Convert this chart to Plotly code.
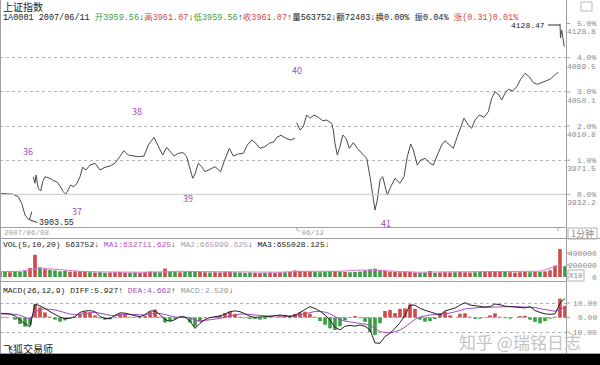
import plotly.graph_objects as go

W, H = 600, 365
FONT = "Noto Sans CJK SC"
MONO = "Liberation Mono, Noto Sans CJK SC"

# ---------------- data ----------------
# price line, time position along the chart (minutes) and index value, per session
t_s1 = [0, 13.3, 18.3, 21.7, 25, 28.3, 30, 31.7]
p_s1 = [3933.4, 3932.2, 3929.4, 3921.8, 3908.4, 3903.55, 3904.6, 3912.2]

t_s2 = [33.3, 35, 36, 38.3, 40.7, 42.7, 45, 50, 53.3, 56.7, 60, 63.3, 65.7, 68.3, 70.7,
        73.3, 76.7, 80, 82.7, 86, 90, 95, 100, 105, 110, 115, 120, 124, 128.3, 133.3,
        138.3, 144, 148.3, 154, 158.3, 162.7, 166.7, 170.7, 174, 178.3, 183.3, 186.7, 190,
        192.7, 195, 198.3, 201.7, 205, 210, 215, 220.7, 224, 229.3, 233.3, 238.3, 243.3,
        247.3, 251.7, 256, 260, 265, 269.3, 274, 276.7, 281, 286, 290.7, 295]
p_s2 = [3952.5, 3944.9, 3954.4, 3939.1, 3936.0, 3946.7, 3952.5, 3950.6, 3947.9, 3946.7,
        3941.8, 3935.2, 3932.2, 3937.1, 3942.9, 3940.9, 3944.1, 3952.5, 3963.3, 3960.2,
        3965.9, 3967.9, 3960.2, 3963.3, 3964.8, 3967.9, 3975.5, 3982.4, 3977.4, 3976.3,
        3975.5, 3976.3, 3988.9, 3997.8, 3987.0, 3977.4, 3986.3, 3981.2, 3976.3, 3979.4,
        3980.1, 3975.5, 3960.2, 3950.6, 3955.6, 3967.9, 3964.0, 3958.2, 3961.0, 3964.0,
        3958.2, 3969.7, 3985.1, 3976.3, 3978.6, 3979.4, 3988.9, 3994.7, 3990.9, 3985.1,
        3987.0, 3990.9, 3992.7, 3997.8, 4000.1, 3996.7, 3994.7, 3996.7]

t_s3 = [296.7, 299.3, 300, 303.3, 306.7, 310, 314, 318.3, 322.7, 326.7, 331.7, 333.3, 335,
        337.3, 340, 342.7, 346, 349.3, 353.3, 357.3, 361.7, 366.7, 370, 372.7, 375, 377.3,
        380, 382.7, 385, 387.3, 390.7, 395, 400, 404, 407.3, 410.7, 413.3, 417.3, 420.7,
        425, 430, 433.3, 437.3, 441.7, 445, 449.3, 453.3, 457.3, 460.7, 464, 468.3, 471.7,
        475, 479.3, 484, 488.3, 491.7, 495, 499, 501.7, 505, 508.3, 512.7, 516.7, 520.7,
        525, 529.3, 533.3, 537.3, 543.3, 550, 556.7, 558.3]
p_s3 = [4014.6, 4009.3, 4006.2, 4010.0, 4023.5, 4019.7, 4023.5, 4020.8, 4016.9, 4017.7,
        4013.9, 4006.2, 3990.9, 3977.4, 3987.0, 4000.5, 3996.7, 3985.1, 3991.6, 3985.1,
        3979.4, 3973.6, 3952.5, 3929.4, 3914.1, 3925.6, 3948.7, 3952.5, 3940.9, 3931.4,
        3940.9, 3950.6, 3944.9, 3952.5, 3975.5, 3990.1, 3983.2, 3965.9, 3971.7, 3973.6,
        3967.9, 3965.9, 3977.4, 3988.9, 3993.9, 3988.9, 3985.1, 3998.5, 4010.0, 4019.7,
        4012.0, 4008.2, 4017.7, 4023.5, 4020.8, 4027.3, 4042.7, 4050.3, 4046.5, 4040.7,
        4048.5, 4053.1, 4051.1, 4056.0, 4064.6, 4071.5, 4067.6, 4060.7, 4058.8, 4061.8,
        4064.6, 4071.5, 4072.2]

t_s4 = [560, 560.5, 561.7, 563, 564.3]
p_s4 = [4128.47, 4112.1, 4121.3, 4112.1, 4102.1]

# right axis levels (percent, price)
pct_labels = ["0.0%", "1.0%", "2.0%", "3.0%", "4.0%", "5.0%"]
pct_prices = [3932.2, 3971.5, 4010.8, 4050.1, 4089.5, 4128.8]

# wave labels
wave_labels = ["36", "37", "38", "39", "40", "41"]
wave_t = [28, 77, 137, 188, 297, 386]
wave_p = [3981.0, 3913.0, 4027.0, 3927.0, 4075.0, 3899.0]

# lower panels sampled every 5 minutes
lower_t = list(range(0, 566, 5))
volume = [85000, 90000, 80000, 95000, 85000, 100000, 150000, 370000, 160000, 130000, 120000, 110000,
          95000, 105000, 90000, 95000, 100000, 85000, 80000, 75000, 80000, 70000, 75000, 80000,
          85000, 75000, 70000, 75000, 70000, 80000, 90000, 85000, 80000, 140000, 90000, 85000,
          80000, 85000, 95000, 100000, 85000, 80000, 75000, 80000, 75000, 90000, 85000, 80000,
          75000, 70000, 75000, 70000, 65000, 70000, 75000, 70000, 75000, 80000, 85000, 110000,
          100000, 95000, 90000, 85000, 80000, 90000, 95000, 100000, 90000, 85000, 80000, 85000,
          90000, 110000, 130000, 140000, 120000, 100000, 90000, 85000, 80000, 90000, 85000, 75000,
          70000, 75000, 100000, 70000, 75000, 80000, 75000, 80000, 85000, 80000, 75000, 80000,
          85000, 90000, 100000, 95000, 90000, 85000, 80000, 75000, 80000, 85000, 80000, 85000,
          90000, 95000, 110000, 190000, 470000, 180000]
vol_dir = ("rgrgggrrgrgg" "ggrrrrgrggrr" "rrggrrrggrgg" "rgggrrgrrrrg" "gggrrgrrrgrr"
           "rrrggggrgrgg" "gggggrrrrrrr" "ggrgrrrgrrrg" "grrrrgrrrrgr" "grrrrg")
ma1_t = list(range(0, 561, 20))
vol_ma1 = [90000, 95000, 150000, 120000, 95000, 85000, 80000, 80000, 85000, 95000, 90000, 85000,
           80000, 75000, 80000, 95000, 90000, 95000, 115000, 110000, 90000, 80000, 85000, 85000,
           90000, 85000, 85000, 95000, 200000]

diff = [2.9, 2.9, 2.4, 1.2, -1.5, -4.5, -6.3, 9.3, 8.0, 6.3, 4.0, 2.2,
        0.3, -0.8, -0.5, 0.6, 3.5, 4.5, 4.7, 4.2, 0.6, -0.6, -0.8, 1.5,
        3.2, 3.0, 2.0, 1.2, 0.6, 2.0, 4.5, 4.5, 2.0, -1.5, -2.6, -1.5,
        0.6, 0.3, -2.5, -7.5, -4.0, -1.5, 0.0, 0.6, 1.0, 2.5, 4.0, 4.6,
        4.0, 2.5, 0.8, 0.1, 0.6, 0.6, 0.8, 1.2, 1.7, 1.2, 0.6, 1.5,
        3.5, 5.8, 7.5, 6.2, 4.3, 1.8, -1.7, -6.8, -8.6, -6.0, -5.5, -6.0,
        -5.2, -6.0, -8.6, -17.5, -17.8, -13.2, -10.9, -7.5, -3.5, 1.5, 8.6, 8.5,
        6.3, 5.0, 3.8, 2.5, 1.7, 4.5, 5.4, 6.5, 8.6, 10.2, 8.6, 8.2,
        7.5, 7.2, 7.5, 9.3, 8.8, 7.8, 7.5, 7.2, 6.6, 6.6, 7.5, 4.8,
        3.5, 2.5, 2.2, 2.5, 9.8, 13.2]
dea = [2.5, 2.6, 2.6, 2.3, 1.5, 0.3, -1.2, 4.0, 5.5, 6.0, 5.8, 5.2,
       4.3, 3.3, 2.4, 1.9, 2.1, 2.7, 3.2, 3.5, 3.0, 2.2, 1.5, 1.3,
       1.8, 2.2, 2.2, 2.0, 1.7, 1.7, 2.3, 2.9, 2.8, 1.9, 0.9, 0.3,
       0.3, 0.3, -0.3, -1.8, -2.3, -2.1, -1.6, -1.1, -0.6, 0.1, 1.0, 1.9,
       2.4, 2.4, 2.0, 1.5, 1.3, 1.1, 1.0, 1.0, 1.2, 1.2, 1.1, 1.2,
       1.7, 2.6, 3.6, 4.2, 4.2, 3.7, 2.6, 0.6, -1.4, -2.5, -3.2, -3.8,
       -4.1, -4.5, -5.3, -7.7, -9.7, -10.4, -10.5, -9.9, -8.6, -6.6, -3.6, -1.2,
       0.3, 1.2, 1.8, 2.0, 2.0, 2.5, 3.1, 3.8, 4.8, 5.9, 6.4, 6.8,
       6.9, 7.0, 7.1, 7.6, 7.8, 7.8, 7.7, 7.6, 7.4, 7.2, 7.3, 6.8,
       6.1, 5.4, 4.8, 4.3, 5.4, 7.0]
macd_bar = [0.5, 0.4, 0.0, -1.5, -4.5, -6.3, -5.0, 9.0, 7.0, 3.5, 0.5, -1.5,
            -2.9, -2.0, -0.5, 0.5, 2.5, 4.0, 3.5, 1.5, -0.5, -1.5, -1.2, 0.5,
            2.5, 2.0, 0.5, -0.3, -0.5, 1.0, 4.0, 5.5, 0.5, -3.5, -2.5, -1.0,
            -0.3, -0.5, -3.5, -6.3, -3.0, -0.5, 0.2, 0.8, 1.5, 3.0, 4.0, 2.5,
            0.5, -0.5, -1.0, -1.0, -1.5, -1.0, 0.3, -0.2, 0.8, 1.8, -0.5, 2.5,
            3.5, 4.0, 2.5, 0.5, -2.5, -5.0, -7.5, -8.6, -6.0, -2.0, 0.3, 1.0,
            -0.5, -3.0, -10.0, -12.0, -4.0, 4.5, 5.2, 3.0, 6.0, 6.3, 9.0, 6.0,
            -1.5, -2.9, -2.5, -1.0, 3.0, 4.0, 1.5, 0.0, 2.5, 2.9, 0.5, -1.0,
            -0.8, 0.3, 1.5, 2.9, 0.5, -0.5, -0.8, 0.0, 1.0, 1.2, -1.5, -3.0,
            -4.0, -2.5, -0.8, 0.5, 13.0, 8.0]

vol_ticks = [0, 200000, 400000]
vol_tick_text = ["0", "200000", "400000"]
macd_ticks = [-10, 0, 10]
macd_tick_text = ["-10.00", "0.00", "10.00"]

# ---------------- layout helpers (pixel -> paper) ----------------
def px(x):
    return x / W


def py(y):
    return 1 - y / H


RED = "#d04a4a"
GREEN = "#3a9e45"
PURPLE = "#a24fc0"
GRAY = "#8a8a8a"

fig = go.Figure()

t_all = t_s1 + [None] + t_s2 + [None] + t_s3 + [None] + t_s4
p_all = p_s1 + [None] + p_s2 + [None] + p_s3 + [None] + p_s4
fig.add_trace(go.Scatter(x=t_all, y=p_all, mode="lines", connectgaps=False,
                         line=dict(color="#4a4a4a", width=1), hoverinfo="skip",
                         xaxis="x", yaxis="y"))

vol_colors = [RED if c == "r" else GREEN for c in vol_dir]
fig.add_trace(go.Bar(x=lower_t, y=volume, marker=dict(color=vol_colors, line=dict(width=0)),
                     width=3.6, xaxis="x2", yaxis="y2", hoverinfo="skip"))
fig.add_trace(go.Scatter(x=ma1_t, y=vol_ma1, mode="lines", line=dict(color="#d77ad7", width=1),
                         xaxis="x2", yaxis="y2", hoverinfo="skip"))

bar_colors = [RED if v >= 0 else GREEN for v in macd_bar]
fig.add_trace(go.Bar(x=lower_t, y=macd_bar, marker=dict(color=bar_colors, line=dict(width=0)),
                     width=3.6, xaxis="x3", yaxis="y3", hoverinfo="skip"))
fig.add_trace(go.Scatter(x=lower_t, y=dea, mode="lines", line=dict(color=PURPLE, width=1),
                         xaxis="x3", yaxis="y3", hoverinfo="skip"))
fig.add_trace(go.Scatter(x=lower_t, y=diff, mode="lines", line=dict(color="#222", width=1),
                         xaxis="x3", yaxis="y3", hoverinfo="skip"))

XR = [0, 566]
xcommon = dict(range=XR, domain=[0, px(566)], showgrid=False, showticklabels=False,
               zeroline=False, showline=False, ticks="")
fig.update_layout(
    width=W, height=H, margin=dict(l=0, r=0, t=0, b=0),
    paper_bgcolor="white", plot_bgcolor="white", showlegend=False,
    font=dict(family=FONT, size=9, color="#222"),
    xaxis=dict(anchor="y", **xcommon),
    xaxis2=dict(anchor="y2", **xcommon),
    xaxis3=dict(anchor="y3", **xcommon),
    yaxis=dict(domain=[py(227), py(20)], range=[3894.6, 4132.8], tickvals=pct_prices[1:5],
               showgrid=True, gridcolor="#b5b5b5", griddash="dot", gridwidth=1,
               showticklabels=False, zeroline=False, ticks=""),
    yaxis2=dict(domain=[py(278), py(249)], range=[-16667, 466667], showgrid=False,
                showticklabels=False, zeroline=False, ticks=""),
    yaxis3=dict(domain=[py(353), py(285)], range=[-24.48, 22.41], tickvals=macd_ticks,
                showgrid=True, gridcolor="#b0b0b0", griddash="dot", gridwidth=1,
                showticklabels=False, zeroline=False, ticks=""),
)

shapes = []
LC = "#a0a0a0"


def hline(y, x0=0, x1=600, color=LC, dash="solid"):
    shapes.append(dict(type="line", xref="paper", yref="paper", x0=px(x0), x1=px(x1),
                       y0=py(y), y1=py(y), line=dict(color=color, width=1, dash=dash)))


def vline(x, y0, y1, color=LC):
    shapes.append(dict(type="line", xref="paper", yref="paper", x0=px(x), x1=px(x),
                       y0=py(y0), y1=py(y1), line=dict(color=color, width=1)))


# 0% base line (solid)
shapes.append(dict(type="line", xref="paper", yref="y", x0=0, x1=px(566),
                   y0=pct_prices[0], y1=pct_prices[0], line=dict(color="#c8c8c8", width=1)))
hline(227.5, 0, 566)
hline(238.5, 0, 600)
hline(281.5, 0, 566)
hline(353.5, 0, 600)
vline(566.5, 0, 354)
vline(0.5, 0, 354)
vline(297, 227.5, 231)
vline(558, 227.5, 231)
# right axis tick dashes
for v in pct_prices:
    shapes.append(dict(type="line", xref="paper", yref="y", x0=px(566), x1=px(570),
                       y0=v, y1=v, line=dict(color=LC, width=1)))
for v in vol_ticks[1:]:
    shapes.append(dict(type="line", xref="paper", yref="y2", x0=px(566), x1=px(570),
                       y0=v, y1=v, line=dict(color=LC, width=1)))
for v in macd_ticks:
    shapes.append(dict(type="line", xref="paper", yref="y3", x0=px(566), x1=px(570),
                       y0=v, y1=v, line=dict(color=LC, width=1)))
# boxes on right column
shapes.append(dict(type="rect", xref="paper", yref="paper", x0=px(568), x1=px(597),
                   y0=py(239), y1=py(228), line=dict(color="#b0b0b0", width=1)))
shapes.append(dict(type="rect", xref="paper", yref="paper", x0=px(568), x1=px(584),
                   y0=py(281), y1=py(270), line=dict(color="#b0b0b0", width=1)))
shapes.append(dict(type="rect", xref="paper", yref="paper", x0=px(581), x1=px(592),
                   y0=py(11), y1=py(2), line=dict(color="#b8b8b8", width=1)))
# leader lines for extreme labels
shapes.append(dict(type="line", xref="paper", yref="paper", x0=px(29), x1=px(37),
                   y0=py(219.5), y1=py(222.5), line=dict(color="#333", width=1)))
shapes.append(dict(type="line", xref="paper", yref="paper", x0=px(548), x1=px(560),
                   y0=py(25), y1=py(25), line=dict(color="#333", width=1)))
# bottom black band
shapes.append(dict(type="rect", xref="paper", yref="paper", x0=0, x1=1, y0=0, y1=py(354),
                   fillcolor="black", line=dict(width=0), layer="above"))
fig.update_layout(shapes=shapes)

anns = []


def text(s, x, y, color="#222", size=8, xanchor="left", family=MONO, yref="paper", yval=None,
         yshift=0):
    anns.append(dict(text=s, xref="paper", yref=yref, x=px(x),
                     y=py(y) if yval is None else yval, xanchor=xanchor, yanchor="middle",
                     showarrow=False, font=dict(color=color, size=size, family=family),
                     yshift=yshift))


text("上证指数", 1, 6, size=10, family=FONT)
row2 = ('1A0001 2007/06/11 '
        f'<span style="color:{GREEN}">开3959.56</span>↓'
        f'<span style="color:{RED}">高3961.07</span>↓'
        f'<span style="color:{GREEN}">低3959.56</span>↑'
        f'<span style="color:{RED}">收3961.07</span>↑'
        '量563752↓额72403↓换0.00% 振0.04% '
        f'<span style="color:{RED}">涨(0.31)0.01%</span>')
text(row2, 1, 17, size=8.5)

for lbl, v in zip(pct_labels, pct_prices):
    text(lbl, 598, 0, color=GRAY, size=8, xanchor="right", yref="y", yval=v)
    text(f"{v:.1f}", 598, 0, color=GRAY, size=8, xanchor="right", yref="y", yval=v, yshift=-8.5)

for lbl, tt, pp in zip(wave_labels, wave_t, wave_p):
    anns.append(dict(text=lbl, xref="x", yref="y", x=tt, y=pp, showarrow=False,
                     font=dict(color=PURPLE, size=9, family=FONT)))

text("3903.55", 37, 222.5, size=8.3)
text("4128.47", 547, 25, size=8, xanchor="right")

text("2007/06/08", 2, 233, color="#a0a0a0", size=7.5)
text("'06/12", 295, 233, color="#a0a0a0", size=7.5)
text("1分钟", 582.5, 233.5, color="#888", size=9, xanchor="center", family=FONT)

vol_head = ('VOL(5,10,20) 563752↓ '
            '<span style="color:#c04fc0">MA1:632711.625</span>↓ '
            '<span style="color:#a9a0a9">MA2:665999.625</span>↓ '
            'MA3:655028.125↓')
text(vol_head, 1, 244.5, size=8)
for lbl, v in zip(vol_tick_text, vol_ticks):
    text(lbl, 599, 0, color=GRAY, size=8, xanchor="right", yref="y2", yval=v)
text("X10", 576, 275.5, color="#888", size=7.5, xanchor="center")

macd_head = ('MACD(26,12,9) DIFF:5.927↑ '
             f'<span style="color:{PURPLE}">DEA:4.662</span>↑ '
             '<span style="color:#999">MACD:2.529</span>↓')
text(macd_head, 1, 290, size=8)
for lbl, v in zip(macd_tick_text, macd_ticks):
    text(lbl, 599, 0, color=GRAY, size=8, xanchor="right", yref="y3", yval=v)

text("飞狐交易师", 1, 348, size=10, family=FONT)
text("知乎 @瑞铭日志", 520, 341, color="#c4c4c4", size=17, xanchor="center", family=FONT)

fig.update_layout(annotations=anns)
fig.write_html("out.html", config={"displayModeBar": False, "staticPlot": True},
               post_script="document.body.style.margin='0';document.body.style.overflow='hidden';")
